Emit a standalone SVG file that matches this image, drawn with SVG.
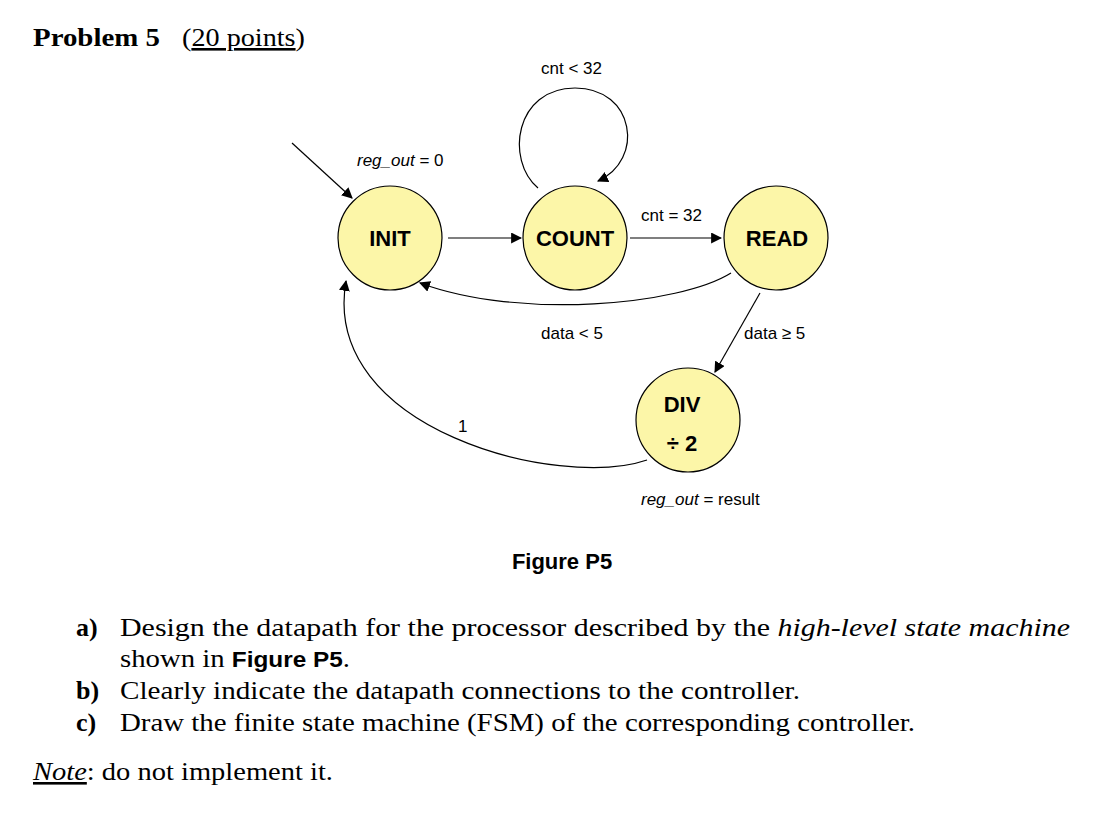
<svg xmlns="http://www.w3.org/2000/svg" width="1108" height="820" viewBox="0 0 1108 820">
<defs>
<marker id="ah" viewBox="0 0 10 10" refX="9" refY="5" markerWidth="11" markerHeight="11" markerUnits="userSpaceOnUse" orient="auto"><path d="M0,0L10,5L0,10z" fill="#000"/></marker>
<style>
.st{fill:#fcf6a8;stroke:#000;stroke-width:1.2}
.sl{font-family:"Liberation Sans",Arial,sans-serif;font-weight:bold;font-size:22px;text-anchor:middle}
.lb{font-family:"Liberation Sans",Arial,sans-serif;font-size:17px}
.e{fill:none;stroke:#000;stroke-width:1.2;marker-end:url(#ah)}
.t{font-family:"Liberation Serif","Times New Roman",serif;font-size:26px}
</style>
</defs>
<rect width="1108" height="820" fill="#fff"/>
<g class="t">
<text x="33" y="46" font-weight="bold" textLength="127" lengthAdjust="spacingAndGlyphs">Problem 5</text>
<text x="182" y="46" textLength="123" lengthAdjust="spacingAndGlyphs">(<tspan text-decoration="underline">20 points</tspan>)</text>
</g>
<g id="connectors">
<path class="e" d="M292,143L352,198"/>
<path class="e" d="M448,238L521,238"/>
<path class="e" d="M630,238L721,238"/>
<path class="e" d="M538,188C505,160 515,88 575,88C635,88 645,160 598,181"/>
<path class="e" d="M731,273C680,305 520,320 420,283"/>
<path class="e" d="M760,293L715,372"/>
<path class="e" d="M647,460C560,490 320,430 346,281"/>
</g>
<g id="init"><circle class="st" cx="390" cy="238" r="52"/><text class="sl" x="390" y="246">INIT</text></g>
<g id="count"><circle class="st" cx="575" cy="238" r="52"/><text class="sl" x="575" y="246">COUNT</text></g>
<g id="read"><circle class="st" cx="776" cy="238" r="52"/><text class="sl" x="777" y="246">READ</text></g>
<g id="div"><circle class="st" cx="688" cy="420" r="52"/><text class="sl" x="682" y="412">DIV</text><text class="sl" x="682" y="451">÷ 2</text></g>
<g class="lb">
<text x="541" y="74">cnt &lt; 32</text>
<text x="357" y="166"><tspan font-style="italic">reg_out</tspan> = 0</text>
<text x="641" y="221">cnt = 32</text>
<text x="541" y="339">data &lt; 5</text>
<text x="744" y="339">data ≥ 5</text>
<text x="458" y="432">1</text>
<text x="641" y="505"><tspan font-style="italic">reg_out</tspan> = result</text>
</g>
<text x="562" y="569" text-anchor="middle" font-family="Liberation Sans,Arial,sans-serif" font-weight="bold" font-size="22">Figure P5</text>
<g class="t">
<text x="76" y="636" font-weight="bold">a)</text>
<text x="120" y="636" textLength="950" lengthAdjust="spacingAndGlyphs">Design the datapath for the processor described by the <tspan font-style="italic">high-level state machine</tspan></text>
<text x="120" y="667" textLength="230" lengthAdjust="spacingAndGlyphs">shown in <tspan font-family="Liberation Sans,Arial,sans-serif" font-weight="bold" font-size="22">Figure P5</tspan>.</text>
<text x="76" y="699" font-weight="bold">b)</text>
<text x="120" y="699" textLength="680" lengthAdjust="spacingAndGlyphs">Clearly indicate the datapath connections to the controller.</text>
<text x="76" y="731" font-weight="bold">c)</text>
<text x="120" y="731" textLength="795" lengthAdjust="spacingAndGlyphs">Draw the finite state machine (FSM) of the corresponding controller.</text>
<text x="33" y="780" textLength="300" lengthAdjust="spacingAndGlyphs"><tspan font-style="italic" text-decoration="underline">Note</tspan>: do not implement it.</text>
</g>
</svg>
